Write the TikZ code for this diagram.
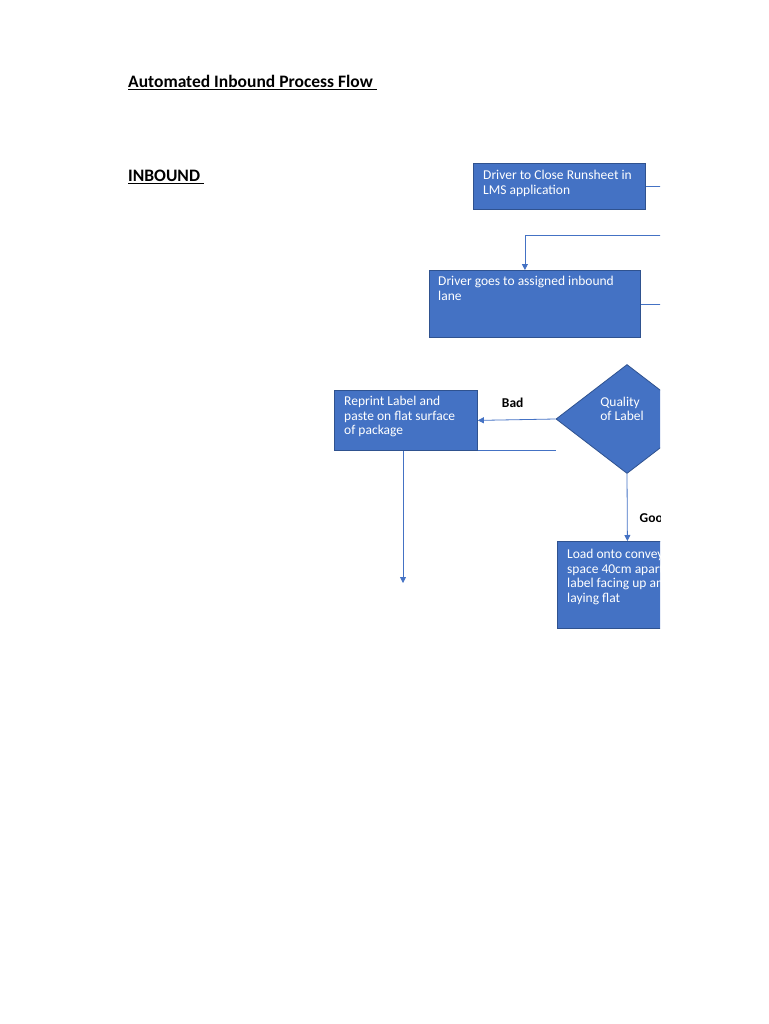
\documentclass[tikz,border=0pt]{standalone}
\usepackage{fontspec}
\setmainfont{Carlito}
\usetikzlibrary{positioning,shapes.geometric,arrows.meta,calc}
\definecolor{boxblue}{RGB}{68,114,196}
\definecolor{boxedge}{RGB}{47,82,143}

\begin{document}
\begin{tikzpicture}[x=1pt,y=-1pt,
	stepbox/.style={draw=boxedge, fill=boxblue, anchor=north west, inner sep=0pt, line width=0.8pt},
	steptext/.style={text=white, align=left, inner sep=0pt, font=\fontsize{13.5}{14.5}\selectfont},
	decision/.style={diamond, draw=boxedge, fill=boxblue, inner sep=0pt, minimum width=142pt, minimum height=109pt, line width=0.8pt},
	flow/.style={draw=boxblue, line width=0.8pt, -{Triangle[width=6pt,length=6pt]}},
	link/.style={draw=boxblue, line width=0.8pt},
	tag/.style={font=\bfseries\fontsize{13.5}{15}\selectfont, inner sep=0pt},
	heading/.style={anchor=base west, inner sep=0pt, font=\bfseries\fontsize{17.5}{19}\selectfont}]
	\useasboundingbox (0,0) rectangle (768,1024);
	% headings
	\node[heading] (title) at (128,88) {\underline{Automated Inbound Process Flow\ }};
	\node[heading] (section) at (128,182) {\underline{INBOUND\ }};
	\begin{scope}
		\clip (0,0) rectangle (660,1024);
		% steps
		\node[stepbox, minimum width=172pt, minimum height=46pt] (close) at (473,163) {};
		\node[steptext, below right=7pt and 10pt of close.north west] (closetxt) {Driver to Close Runsheet in\\LMS application};
		\node[stepbox, minimum width=211pt, minimum height=67pt] (lane) at (429,270) {};
		\node[steptext, below right=6pt and 9pt of lane.north west] (lanetxt) {Driver goes to assigned inbound\\lane};
		\node[decision] (check) at (627,419) {};
		\node[steptext] (checktxt) at ([shift={(-5pt,10pt)}]check) {Quality\\of Label};
		\node[stepbox, minimum width=143pt, minimum height=60pt] (reprint) at (334,390) {};
		\node[steptext, below right=6pt and 10pt of reprint.north west] (reprinttxt) {Reprint Label and\\paste on flat surface\\of package};
		\node[stepbox, minimum width=140pt, minimum height=87pt] (load) at (557,541) {};
		\node[steptext, below right=8pt and 10pt of load.north west] (loadtxt) {Load onto conveyor\\space 40cm apart\\label facing up and\\laying flat};
		% connectors
		\coordinate (out1) at ([xshift=25pt]close.east);
		\coordinate (back1) at (670,235);
		\coordinate (out2) at ([xshift=30pt]lane.east);
		\coordinate (drop) at (403,583);
		\draw[link] (close.east) -- (out1);
		\draw[flow] (back1) -| ([xshift=-10pt]lane.north);
		\draw[link] (lane.east) -- (out2);
		\draw[flow] (check.west) -- (reprint.east) node[tag, midway, above=12pt, xshift=-4pt] (bad) {Bad};
		\draw[link] (reprint.south east) -- (reprint.south east -| check.west);
		\draw[flow] (reprint.south -| drop) -- (drop);
		\draw[flow] (check.south) -- (load.north) node[tag, pos=0.65, anchor=west, xshift=12pt] (good) {Good};
	\end{scope}
\end{tikzpicture}
\end{document}
